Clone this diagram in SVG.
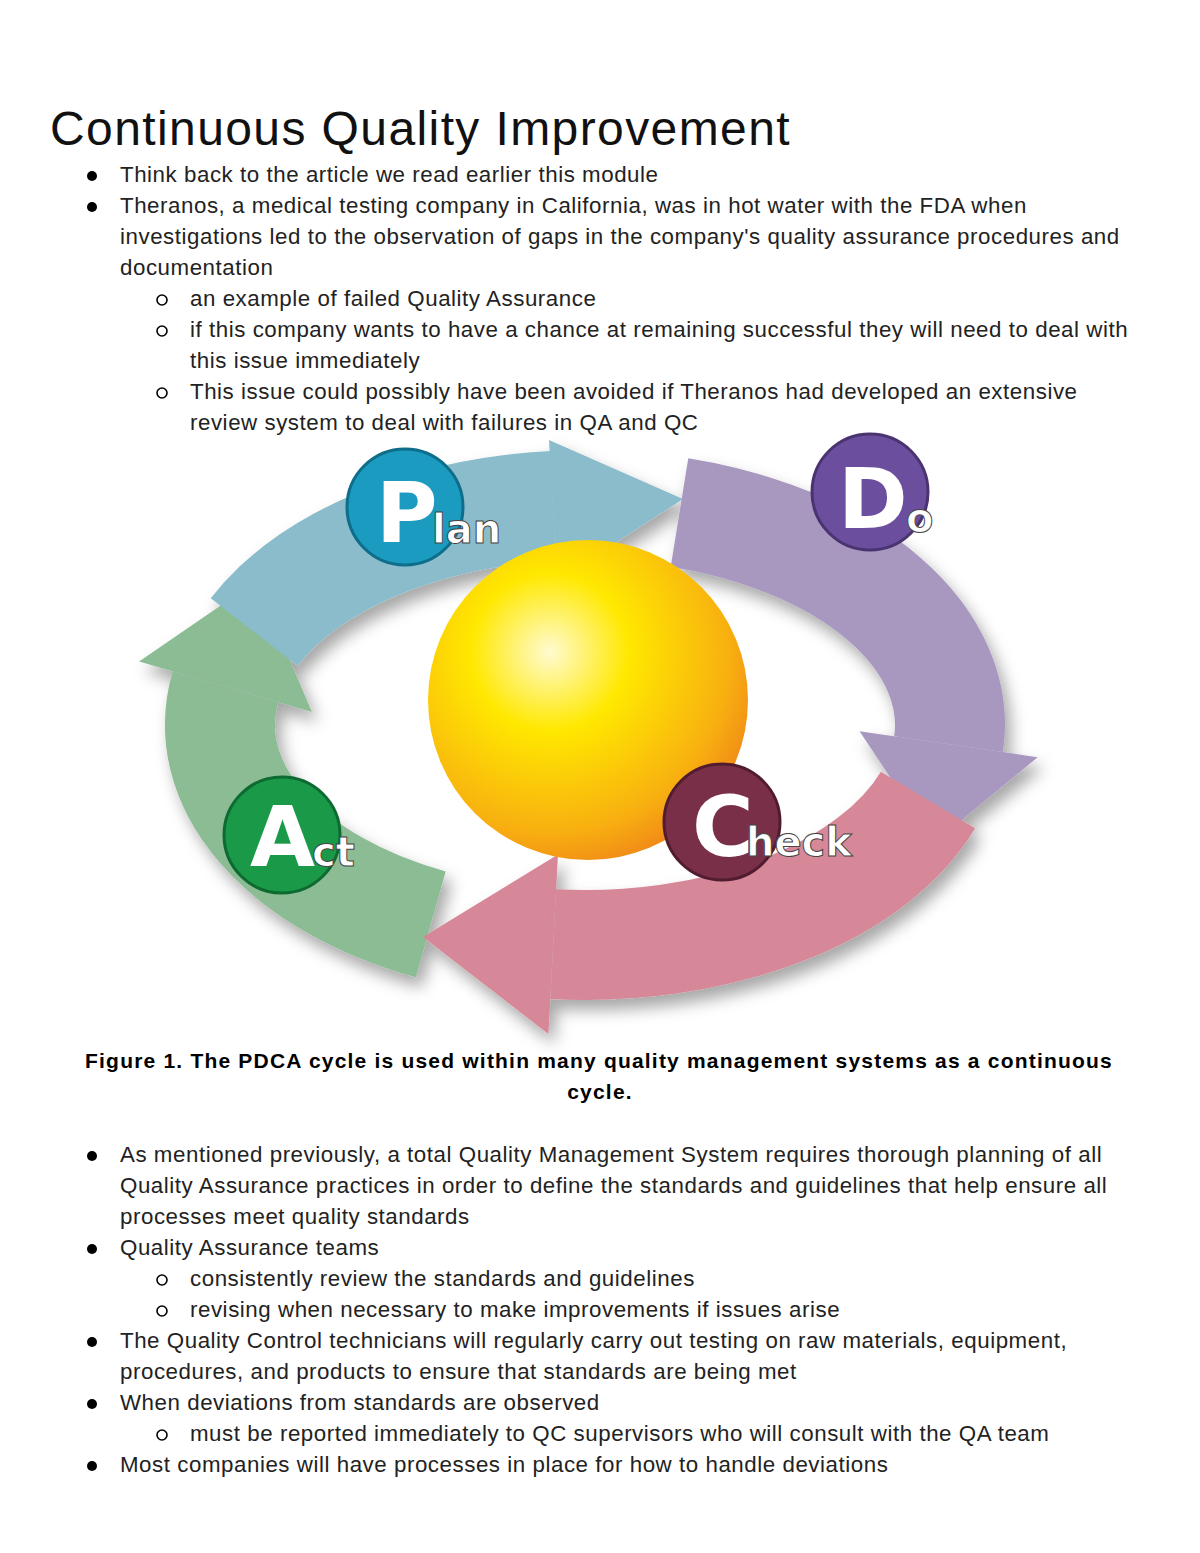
<svg xmlns="http://www.w3.org/2000/svg" width="1200" height="1553" viewBox="0 0 1200 1553">
<style>
.t{font-family:"Liberation Sans",Arial,sans-serif;font-size:22.3px;letter-spacing:0.55px;fill:#222}
.c{font-family:"Liberation Sans",Arial,sans-serif;font-size:21px;font-weight:bold;letter-spacing:1.2px;fill:#000}
.b{fill:#000}
.o{fill:none;stroke:#000;stroke-width:1.6}
.big{font-family:"DejaVu Sans",sans-serif;font-weight:bold;fill:#fff;font-size:84px}
.sm{font-family:"DejaVu Sans",sans-serif;font-weight:bold;fill:#fff;font-size:40px;stroke:#444;stroke-width:1}
</style>
<defs>
<radialGradient id="sph" cx="0.38" cy="0.35" r="0.7">
<stop offset="0" stop-color="#fffbd0"/><stop offset="0.35" stop-color="#ffe800"/><stop offset="0.8" stop-color="#f8b010"/><stop offset="1" stop-color="#f08818"/>
</radialGradient>
<filter id="sh" x="-20%" y="-20%" width="140%" height="140%"><feDropShadow dx="6" dy="10" stdDeviation="8" flood-color="#000" flood-opacity="0.35"/></filter>
</defs>
<rect width="1200" height="1553" fill="#fff"/>
<text x="50" y="145" font-family="Liberation Sans,Arial,sans-serif" font-size="48" letter-spacing="1.4" fill="#111">Continuous Quality Improvement</text>
<g id="top-text">
<circle class="b" cx="92" cy="176" r="5"/><text class="t" x="120" y="182">Think back to the article we read earlier this module</text>
<circle class="b" cx="92" cy="207" r="5"/><text class="t" x="120" y="213">Theranos, a medical testing company in California, was in hot water with the FDA when</text>
<text class="t" x="120" y="244">investigations led to the observation of gaps in the company's quality assurance procedures and</text>
<text class="t" x="120" y="275">documentation</text>
<circle class="o" cx="162" cy="300" r="5"/><text class="t" x="190" y="306">an example of failed Quality Assurance</text>
<circle class="o" cx="162" cy="331" r="5"/><text class="t" x="190" y="337">if this company wants to have a chance at remaining successful they will need to deal with</text>
<text class="t" x="190" y="368">this issue immediately</text>
<circle class="o" cx="162" cy="393" r="5"/><text class="t" x="190" y="399">This issue could possibly have been avoided if Theranos had developed an extensive</text>
<text class="t" x="190" y="430">review system to deal with failures in QA and QC</text>
</g>
<g id="connectors" filter="url(#sh)">
<g id="act-arrow" fill="#8cbc94">
<path d="M430.8,924.4 A365,220 0 0 1 225.5,686.8" fill="none" stroke="#8cbc94" stroke-width="110"/>
<polygon points="311.9,712 139.1,661.5 256.4,581"/>
</g>
<g id="plan-arrow" fill="#8bbccc">
<path d="M254.2,632 A365,220 0 0 1 553,506" fill="none" stroke="#8bbccc" stroke-width="110"/>
<polygon points="557,580.8 549,440 683,499"/>
</g>
<g id="do-arrow" fill="#a898c0">
<path d="M679.5,512.5 A365,220 0 0 1 948.6,744.2" fill="none" stroke="#a898c0" stroke-width="110"/>
<polygon points="1037.7,757.2 859.5,731.2 934,843"/>
</g>
<g id="check-arrow" fill="#d68898">
<path d="M928,800 A365,220 0 0 1 553.2,944.2" fill="none" stroke="#d68898" stroke-width="110"/>
<polygon points="558,854.4 548.4,1034 423,937"/>
</g>
</g>
<circle id="sphere" cx="588" cy="700" r="160" fill="url(#sph)"/>
<g id="plan"><circle cx="405" cy="507" r="58" fill="#1a9bbf" stroke="#0d6d8a" stroke-width="3"/><text class="big" x="376" y="542">P</text><text class="sm" x="432" y="543">lan</text></g>
<g id="do"><circle cx="870" cy="492" r="58" fill="#6b4f9e" stroke="#4a3470" stroke-width="3"/><text class="big" x="838" y="528">D</text><text class="sm" x="906" y="532">o</text></g>
<g id="act"><circle cx="282" cy="835" r="58" fill="#1a9a48" stroke="#0d6a30" stroke-width="3"/><text class="big" x="250" y="866">A</text><text class="sm" x="312" y="866">ct</text></g>
<g id="check"><circle cx="722" cy="822" r="58" fill="#7a2f48" stroke="#521c30" stroke-width="3"/><text class="big" x="692" y="856">C</text><text class="sm" x="746" y="856">heck</text></g>
<text class="c" x="599" y="1068" text-anchor="middle">Figure 1. The PDCA cycle is used within many quality management systems as a continuous</text>
<text class="c" x="600" y="1099" text-anchor="middle">cycle.</text>
<g id="bottom-text">
<circle class="b" cx="92" cy="1156" r="5"/><text class="t" x="120" y="1162">As mentioned previously, a total Quality Management System requires thorough planning of all</text>
<text class="t" x="120" y="1193">Quality Assurance practices in order to define the standards and guidelines that help ensure all</text>
<text class="t" x="120" y="1224">processes meet quality standards</text>
<circle class="b" cx="92" cy="1249" r="5"/><text class="t" x="120" y="1255">Quality Assurance teams</text>
<circle class="o" cx="162" cy="1280" r="5"/><text class="t" x="190" y="1286">consistently review the standards and guidelines</text>
<circle class="o" cx="162" cy="1311" r="5"/><text class="t" x="190" y="1317">revising when necessary to make improvements if issues arise</text>
<circle class="b" cx="92" cy="1342" r="5"/><text class="t" x="120" y="1348">The Quality Control technicians will regularly carry out testing on raw materials, equipment,</text>
<text class="t" x="120" y="1379">procedures, and products to ensure that standards are being met</text>
<circle class="b" cx="92" cy="1404" r="5"/><text class="t" x="120" y="1410">When deviations from standards are observed</text>
<circle class="o" cx="162" cy="1435" r="5"/><text class="t" x="190" y="1441">must be reported immediately to QC supervisors who will consult with the QA team</text>
<circle class="b" cx="92" cy="1466" r="5"/><text class="t" x="120" y="1472">Most companies will have processes in place for how to handle deviations</text>
</g>
</svg>
